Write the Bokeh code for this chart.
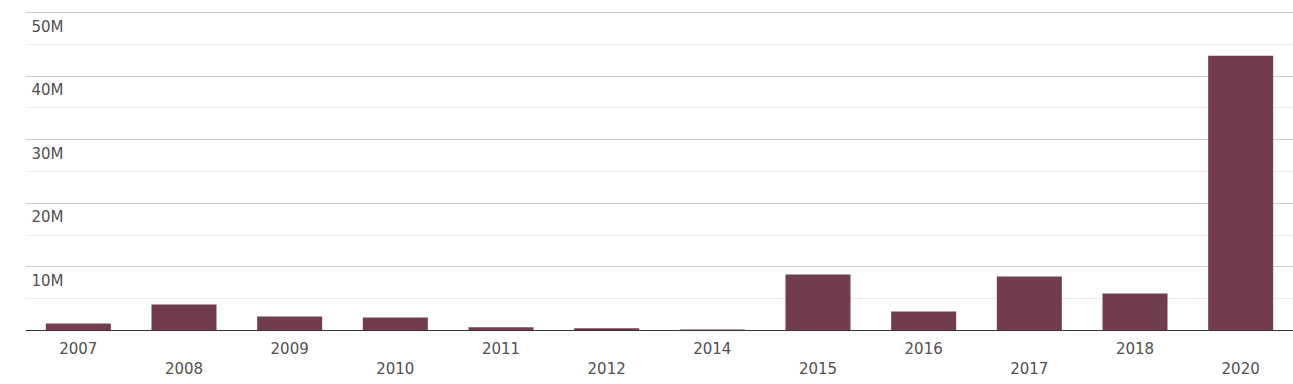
from bokeh.plotting import figure
from bokeh.models import Range1d, FixedTicker, LinearAxis, ColumnDataSource
from bokeh.core.properties import value
from bokeh.embed import file_html
from bokeh.resources import INLINE

years = ["2007", "2008", "2009", "2010", "2011", "2012", "2014", "2015", "2016", "2017", "2018", "2020"]
values = [1.1e6, 4.1e6, 2.2e6, 2.05e6, 0.5e6, 0.35e6, 0.15e6, 8.8e6, 3.0e6, 8.5e6, 5.8e6, 43.2e6]
y_ticks = [10e6, 20e6, 30e6, 40e6, 50e6]
y_minor = [5e6, 15e6, 25e6, 35e6, 45e6]
y_labels = ["10M", "20M", "30M", "40M", "50M"]

FONT = "DejaVu Sans"
BAR = "#723c4f"
TXT = "#505050"

idx = list(range(len(years)))

p = figure(width=1293, height=384, output_backend="svg", toolbar_location=None,
           x_range=Range1d(-0.5, len(years) - 0.5), y_range=Range1d(0, 50.16e6),
           x_axis_location=None, y_axis_location=None)
p.min_border_left = 25
p.min_border_right = 0
p.min_border_top = 11
p.min_border_bottom = 54
p.outline_line_color = None
p.background_fill_color = "white"
p.border_fill_color = "white"

p.xgrid.visible = False
p.ygrid.ticker = FixedTicker(ticks=[0] + y_ticks, minor_ticks=y_minor)
p.ygrid.grid_line_color = "#cccccc"
p.ygrid.grid_line_width = 1
p.ygrid.minor_grid_line_color = "#ececec"
p.ygrid.minor_grid_line_width = 1

src = ColumnDataSource(dict(x=idx, top=values))
p.vbar(x="x", top="top", width=0.615, bottom=0, source=src, fill_color=BAR, line_color=None)

lab = ColumnDataSource(dict(x=[-0.5] * len(y_ticks), y=y_ticks, t=y_labels))
p.text(x="x", y="y", text="t", source=lab, x_offset=6, y_offset=5,
       text_baseline="top", text_align="left", text_font=value(FONT),
       text_font_size="15px", text_color=TXT)

even = [i for i in idx if i % 2 == 0]
odd = [i for i in idx if i % 2 == 1]

ax1 = LinearAxis(ticker=FixedTicker(ticks=even),
                 major_label_overrides={i: years[i] for i in even})
ax2 = LinearAxis(ticker=FixedTicker(ticks=odd),
                 major_label_overrides={i: years[i] for i in odd})
for ax in (ax1, ax2):
    ax.major_tick_line_color = None
    ax.minor_tick_line_color = None
    ax.major_label_text_font = FONT
    ax.major_label_text_font_size = "15px"
    ax.major_label_text_color = TXT
ax1.axis_line_color = "#333333"
ax1.axis_line_width = 1
ax1.major_label_standoff = 5
ax2.axis_line_color = None
ax2.major_label_standoff = -1
p.add_layout(ax1, "below")
p.add_layout(ax2, "below")

open("out.html", "w").write(file_html(p, INLINE))
